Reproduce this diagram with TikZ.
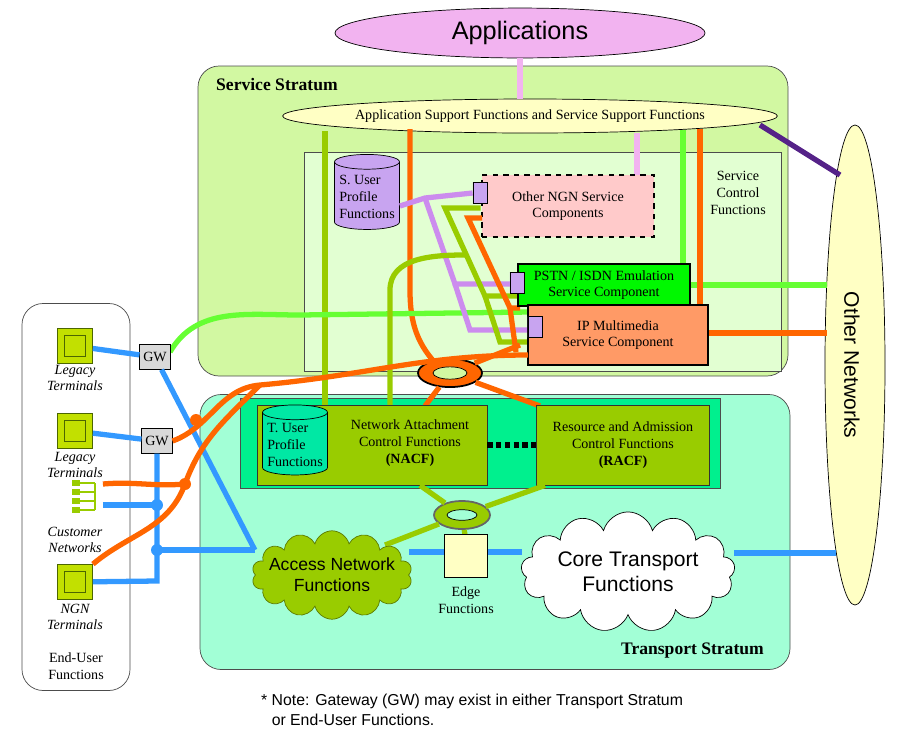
\documentclass[tikz,border=0pt]{standalone}
\usepackage{fontspec}
\setmainfont{Liberation Serif}
\newfontfamily\sansf{Liberation Sans}
\usetikzlibrary{shapes.geometric,shapes.symbols,positioning}

\definecolor{appPink}{HTML}{F2B3F0}
\definecolor{svcGreen}{HTML}{D2F8A2}
\definecolor{scfGreen}{HTML}{E2FFD2}
\definecolor{pYellow}{HTML}{FFFFC4}
\definecolor{cylPurple}{HTML}{C8A4F0}
\definecolor{ngnPink}{HTML}{FFCACA}
\definecolor{pstnGreen}{HTML}{00F800}
\definecolor{ipOrange}{HTML}{FF9A66}
\definecolor{trGreen}{HTML}{A2FFD6}
\definecolor{innerTeal}{HTML}{00F08E}
\definecolor{olive}{HTML}{99CC00}
\definecolor{tcyl}{HTML}{00E8A4}
\definecolor{lBlue}{HTML}{3399FF}
\definecolor{lOrange}{HTML}{FF6600}
\definecolor{lLime}{HTML}{66FF33}
\definecolor{lPurple}{HTML}{CC8CEE}
\definecolor{dPurple}{HTML}{552288}

\tikzset{
  stratum/.style={draw=black!70,rounded corners=12pt},
  fbox/.style={draw,thick,align=center,font=\footnotesize},
  cyl/.style={cylinder,shape border rotate=90,draw,aspect=0.25,align=left,font=\footnotesize,inner sep=1pt},
  mini/.style={cylinder,shape border rotate=90,draw,fill=cylPurple,aspect=0.5,minimum width=8pt,minimum height=12pt,inner sep=0pt},
  term/.style={draw=olive!50!black,fill=olive!60!yellow,minimum size=20pt,inner sep=0pt},
  gw/.style={draw,fill=gray!30,font=\footnotesize,inner sep=2pt,minimum height=14pt},
  lab/.style={font=\footnotesize\itshape,align=center},
  blu/.style={lBlue,line width=3pt},
  org/.style={lOrange,line width=3pt},
  oli/.style={olive,line width=3pt},
  pur/.style={lPurple,line width=3pt},
  ring/.style={ellipse,draw,line width=1pt,minimum width=#1,minimum height=16pt,inner sep=0pt},
  puff/.style={cloud,cloud puffs=#1,aspect=2.4,inner sep=-5pt,align=center},
}

\begin{document}
\begin{tikzpicture}[x=0.02cm,y=-0.02cm]
\useasboundingbox (0,0) rectangle (900,738);

% strata
\node[stratum,fill=svcGreen,minimum width=590*0.02cm,minimum height=310*0.02cm] (ss) at (493,221) {};
\node[font=\bfseries,anchor=west] (sslab) at (210,85) {Service Stratum};
\node[draw=black!70,fill=scfGreen,minimum width=477*0.02cm,minimum height=219*0.02cm] (scf) at (543,262) {};
\node[font=\footnotesize,align=center] (scflab) at (738,193) {Service\\Control\\Functions};

\node[stratum,fill=trGreen,minimum width=590*0.02cm,minimum height=275*0.02cm] (ts) at (495,532) {};
\node[font=\bfseries,anchor=east] (tslab) at (770,651) {Transport Stratum};
\node[draw=black!70,fill=innerTeal,minimum width=480*0.02cm,minimum height=90*0.02cm] (tin) at (480,443) {};

\node[stratum,fill=white,minimum width=108*0.02cm,minimum height=387*0.02cm] (eu) at (76,497) {};
\node[font=\footnotesize,align=center] (eulab) at (76,666) {End-User\\Functions};

% service side boxes
\node[ellipse,draw,fill=appPink,minimum width=370*0.02cm,minimum height=36*0.02cm,font=\sansf\Large] (app) at (520,33) {Applications};
\node[ellipse,draw,fill=pYellow,minimum width=470*0.02cm,minimum height=34*0.02cm,font=\footnotesize,inner sep=0pt] (asf) at (530,116) {Application Support Functions and Service Support Functions};
\node[ellipse,draw,fill=pYellow,minimum width=60*0.02cm,minimum height=480*0.02cm] (on) at (855,365) {};
\node[rotate=-90,font=\sansf\large] (onlab) at (852,365) {Other Networks};

% lines in service stratum
\draw[appPink,line width=3pt] (app.south) -- (520,99);
\draw[appPink,line width=3pt] (637,133) -- (637,176);
\draw[oli] (325,131) -- (325,410);
\draw[org] (410,129) -- (410,290) to[out=270,in=135] (440,368);
\draw[lLime,line width=3pt] (683,130) -- (683,266);
\draw[lLime,line width=3pt] (690,285) -- (827,285);
\draw[org] (700,129) -- (700,305);
\draw[org] (708,333) -- (827,333);
\draw[dPurple,line width=3pt] (760,125) -- (840,175);
\draw[lLime,line width=3pt] (170,352) to[out=60,in=180] (300,315) -- (530,312);

\node[cyl,fill=cylPurple,minimum width=65*0.02cm,minimum height=75*0.02cm] (sup) at (367,197) {S. User\\Profile\\Functions};
\node[fbox,fill=ngnPink,dashed,line width=1.5pt,minimum width=172*0.02cm,minimum height=62*0.02cm] (ngn) at (568,206) {Other NGN Service\\Components};
\node[mini] (c1) at (480,193) {};

% branch lines to components
\draw[pur] (sup.east |- 0,206) -- (425,198) -- (c1.west);
\draw[pur] (425,198) -- (455,284) -- (513,284);
\draw[pur] (455,284) -- (470,330) -- (530,330);
\draw[oli] (ngn.west |- 0,208) -- (445,208) -- (485,296) -- (520,296);
\draw[oli] (485,296) -- (500,342) -- (530,342);
\draw[oli] (390,405) -- (390,290) to[out=90,in=180] (465,255);
\draw[org] (482,218) -- (468,218) -- (510,308) -- (520,308);
\draw[org] (510,308) -- (516,352);

\node[fbox,fill=pstnGreen,minimum width=172*0.02cm,minimum height=42*0.02cm] (pstn) at (604,285) {PSTN / ISDN Emulation\\Service Component};
\node[mini] (c2) at (517,283) {};
\node[fbox,fill=ipOrange,minimum width=180*0.02cm,minimum height=60*0.02cm] (ip) at (618,335) {IP Multimedia\\Service Component};
\node[mini] (c3) at (535,327) {};

% rings and transport control
\node[ring=64*0.02cm,draw=black,fill=lOrange] (ro) at (450,373) {};
\node[ellipse,draw,fill=svcGreen,minimum width=34*0.02cm,minimum height=7pt,inner sep=0pt] (roi) at (450,373) {};
\draw[org] (ro) -- (520,345);
\draw[org] (ro) -- (425,406);
\draw[org] (ro) -- (540,406);

\node[fbox,fill=olive,minimum width=230*0.02cm,minimum height=80*0.02cm,draw=black!80,thin] (nacf) at (372,445) {};
\node[font=\footnotesize,align=center] (nacflab) at (410,443) {Network Attachment\\Control Functions\\\textbf{(NACF)}};
\node[fbox,fill=olive,minimum width=173*0.02cm,minimum height=80*0.02cm,draw=black!80,thin] (racf) at (623,445) {Resource and Admission\\Control Functions\\\textbf{(RACF)}};
\node[cyl,fill=tcyl,minimum width=65*0.02cm,minimum height=70*0.02cm] (tup) at (295,445) {T. User\\Profile\\Functions};
\draw[line width=3pt,dotted] (nacf.east) -- (racf.west);

\node[ring=56*0.02cm,draw=black!60,fill=olive] (rg) at (462,515) {};
\node[ellipse,draw,fill=trGreen,minimum width=30*0.02cm,minimum height=6pt,inner sep=0pt] (rgi) at (462,515) {};
\draw[oli] (nacf.south -| 420,0) -- (rg);
\draw[oli] (racf.south -| 545,0) -- (rg);
\draw[oli] (rg) -- (385,545);
\draw[oli] (rg) -- (465,535);

% transport functions
\node[puff=14,draw=olive!60!black,fill=olive,font=\sansf] (an) at (332,575) {Access Network\\Functions};
\node[draw,fill=pYellow,minimum size=43*0.02cm] (edge) at (466,556) {};
\node[font=\footnotesize,align=center] (edgelab) at (466,600) {Edge\\Functions};
\node[puff=13,inner sep=1pt,draw,fill=white,font=\sansf\large] (core) at (628,572) {Core Transport\\Functions};
\draw[blu] (an.east |- 0,552) -- (edge.west |- 0,552);
\draw[blu] (edge.east |- 0,552) -- (core.west |- 0,552);
\draw[blu] (core.east |- 0,553) -- (836,553);

% end user side
\node[term] (lt1) at (75,346) {};
\node[draw=olive!50!black,minimum size=12pt] at (lt1) {};
\node[lab] (lt1lab) at (75,378) {Legacy\\Terminals};
\node[term] (lt2) at (75,431) {};
\node[draw=olive!50!black,minimum size=12pt] at (lt2) {};
\node[lab] (lt2lab) at (75,465) {Legacy\\Terminals};
\node[inner sep=0pt,minimum width=20pt,minimum height=24pt] (cn) at (85,497) {};
\foreach \yy in {483,492,501,510} {
  \draw[olive,line width=1pt] (75,\yy) -- (95,\yy);
  \fill[olive] (72,\yy-3) rectangle (80,\yy+3);
}
\draw[olive,line width=1pt] (95,483) -- (95,510);
\node[lab] (cnlab) at (75,540) {Customer\\Networks};
\node[term] (ngt) at (75,582) {};
\node[draw=olive!50!black,minimum size=12pt] at (ngt) {};
\node[lab] (ngtlab) at (75,617) {NGN\\Terminals};

\node[gw] (gw1) at (155,357) {GW};
\node[gw] (gw2) at (157,441) {GW};

\coordinate (j1) at (157,505);
\coordinate (j2) at (157,550);
\coordinate (o1) at (185,484);
\draw[blu] (lt1) -- (gw1);
\draw[blu] (lt2) -- (gw2);
\draw[blu] (gw1) -- (an.west |- 0,550);
\draw[blu] (gw2) -- (157,581) -- (ngt);
\draw[blu] (cn.east |- j1) -- (j1);
\draw[blu] (j2) -- (an.west |- 0,550);
\fill[lBlue] (j1) circle (6) (j2) circle (6);
\draw[org] (gw2.east) to[out=20,in=185] (260,385) to[out=5,in=180] (528,355);
\draw[org] (ngt.north east) to[out=40,in=250] (o1) to[out=70,in=225] (260,385);
\draw[org] (cn.east |- 0,484) to[out=5,in=185] (o1);
\fill[lOrange] (o1) circle (6) (196,420) circle (6);

% note
\node[font=\sansf\small,align=left,anchor=north west] (note) at (255,688) {* Note: Gateway (GW) may exist in either Transport Stratum\\\phantom{* }or End-User Functions.};
\end{tikzpicture}
\end{document}
